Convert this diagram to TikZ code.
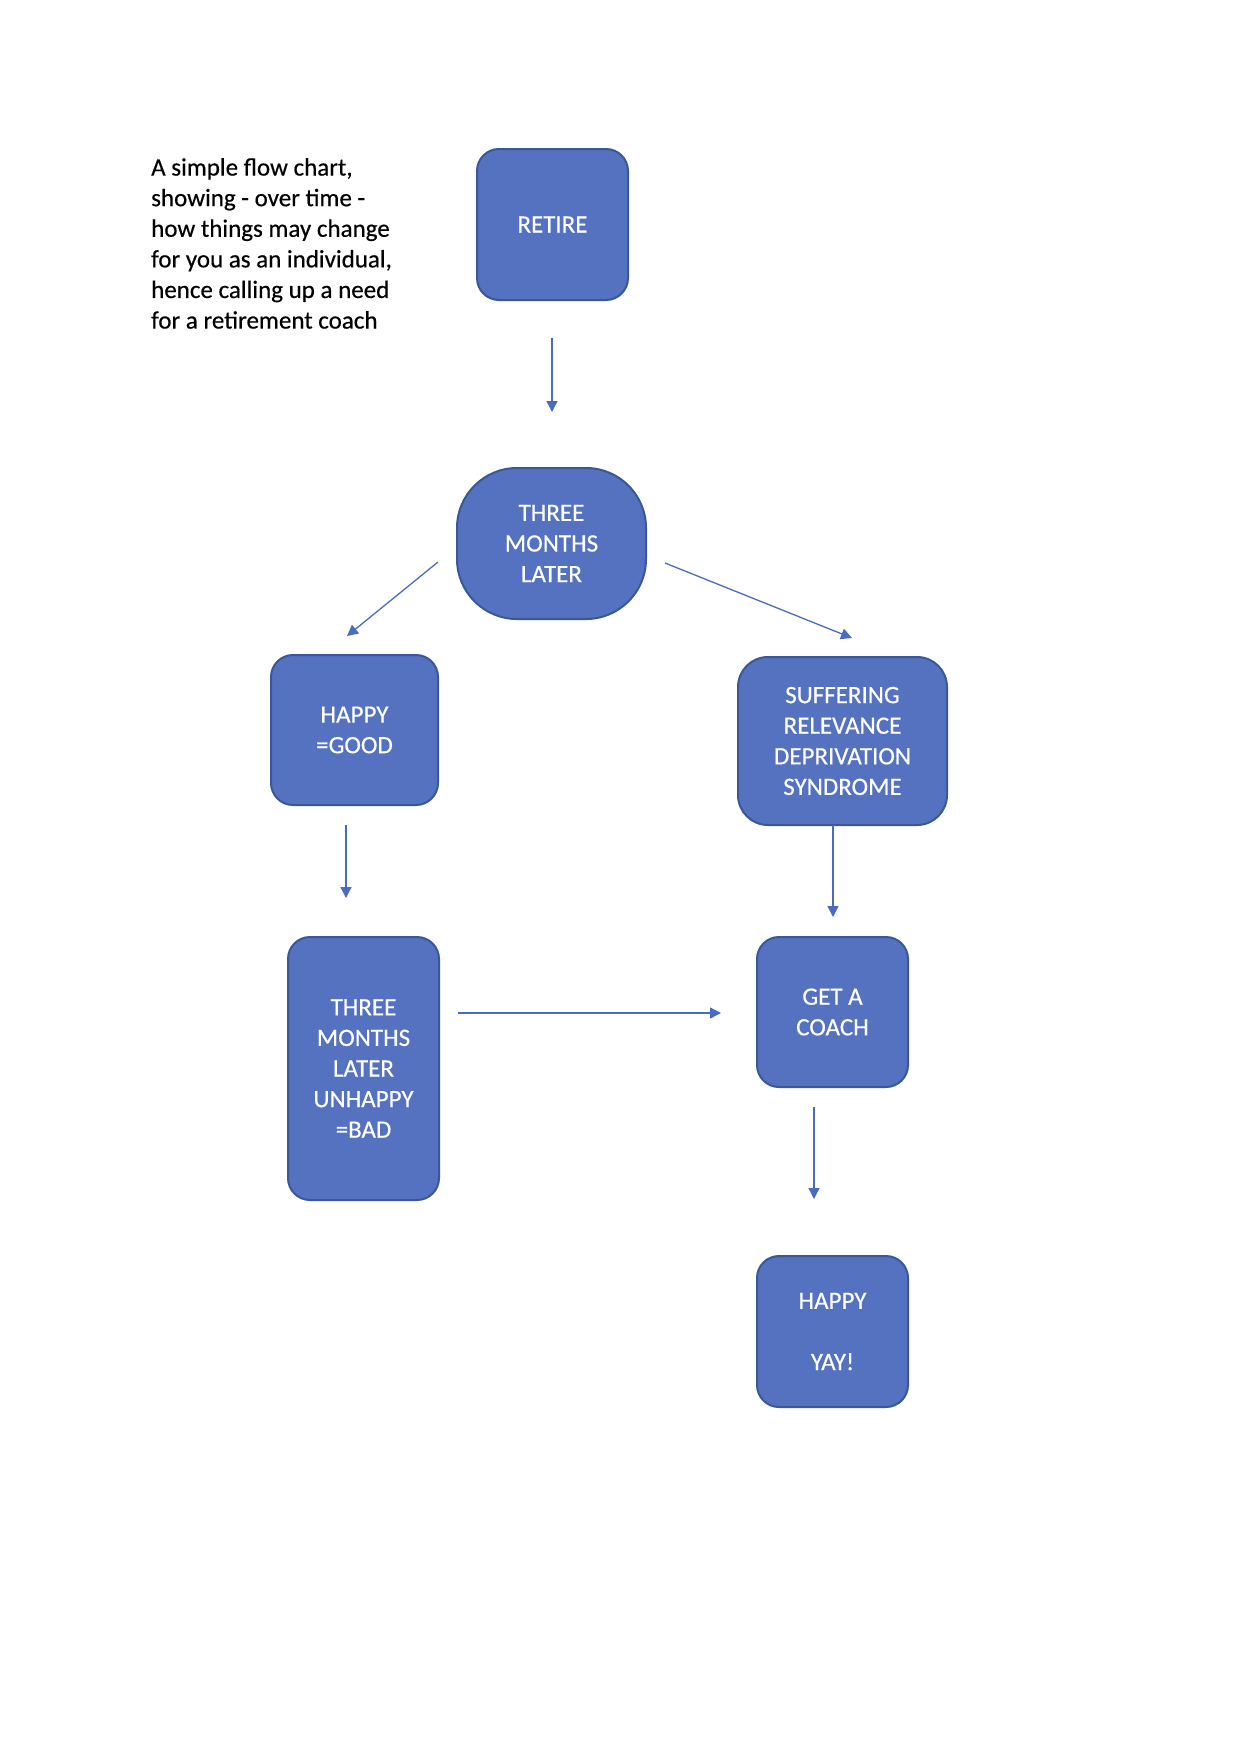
\documentclass[tikz,border=0pt]{standalone}
\usepackage{fontspec}
\setmainfont{Carlito}[FakeBold=0.4]
\usetikzlibrary{arrows.meta}
\definecolor{boxfill}{HTML}{5572C0}
\definecolor{boxline}{HTML}{3A5799}
\definecolor{arrowc}{HTML}{4A6CC0}
\begin{document}
\begin{tikzpicture}[x=1pt,y=-1pt,
  box/.style={draw=boxline, line width=2pt, fill=boxfill, text=white, align=center,
    inner sep=0pt, font=\fontsize{25}{30.6}\selectfont, rounded corners=22pt},
  arr/.style={draw=arrowc, line width=1.3pt, -{Triangle[length=11pt,width=11pt]}}]
\useasboundingbox[fill=white] (0,0) rectangle (1239,1754);

\node[anchor=north west, align=left, inner sep=0pt, font=\fontsize{25}{30.6}\selectfont] (desc) at (151,158)
  {A simple flow chart,\\showing - over time -\\how things may change\\for you as an individual,\\hence calling up a need\\for a retirement coach};

\node[box, minimum width=151pt, minimum height=151pt] (retire) at (552.5,224.5) {RETIRE};
\node[box, minimum width=189pt, minimum height=151pt, rounded corners=60pt] (tml) at (551.5,543.5) {THREE\\MONTHS\\LATER};
\node[box, minimum width=167pt, minimum height=150pt] (happy) at (354.5,730) {HAPPY\\=GOOD};
\node[box, minimum width=209pt, minimum height=168pt, rounded corners=30pt] (suf) at (842.5,741) {SUFFERING\\RELEVANCE\\DEPRIVATION\\SYNDROME};
\node[box, minimum width=151pt, minimum height=263pt] (tmlu) at (363.5,1068.5) {THREE\\MONTHS\\LATER\\UNHAPPY\\=BAD};
\node[box, minimum width=151pt, minimum height=150pt] (coach) at (832.5,1012) {GET A\\COACH};
\node[box, minimum width=151pt, minimum height=151pt] (yay) at (832.5,1331.5) {HAPPY\\[30.6pt]YAY!};

\coordinate (a1s) at (552,338);  \coordinate (a1e) at (552,412);
\coordinate (a2s) at (438,562);  \coordinate (a2e) at (347,636);
\coordinate (a3s) at (665,563);  \coordinate (a3e) at (852,638);
\coordinate (a4s) at (346,825);  \coordinate (a4e) at (346,898);
\coordinate (a5s) at (833,825);  \coordinate (a5e) at (833,917);
\coordinate (a6s) at (458,1013); \coordinate (a6e) at (721,1013);
\coordinate (a7s) at (814,1107); \coordinate (a7e) at (814,1199);

\draw[arr] (a1s) -- (a1e);
\draw[arr] (a2s) -- (a2e);
\draw[arr] (a3s) -- (a3e);
\draw[arr] (a4s) -- (a4e);
\draw[arr] (a5s) -- (a5e);
\draw[arr] (a6s) -- (a6e);
\draw[arr] (a7s) -- (a7e);
\end{tikzpicture}
\end{document}
